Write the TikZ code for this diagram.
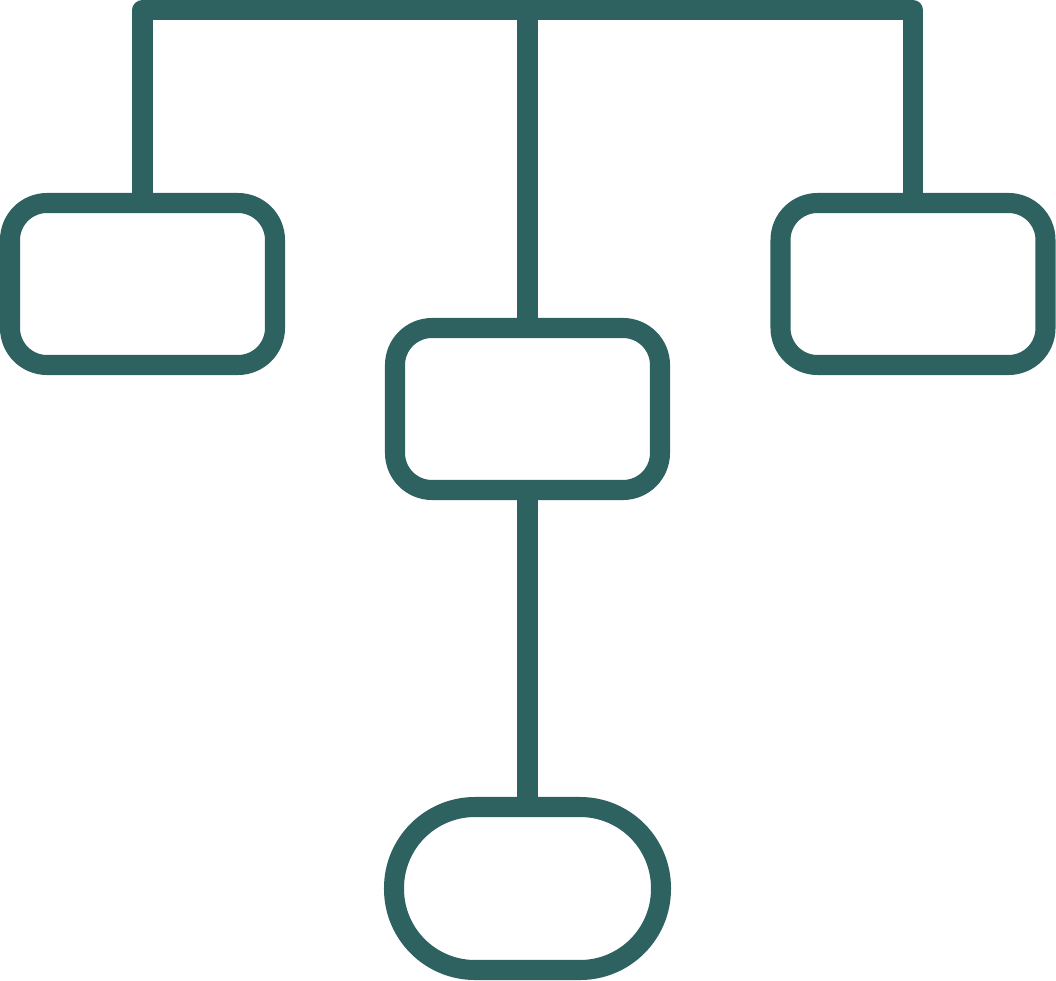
\documentclass[tikz,border=0pt]{standalone}
\usepackage{tikz}
\usetikzlibrary{calc}
\definecolor{myteal}{RGB}{45, 98, 97}
\tikzset{box/.style = {draw = myteal, line width = 5.7pt, rounded corners = 0.37cm,
  minimum width = 2.65cm, minimum height = 1.62cm, inner sep = 0pt}}
\tikzset{link/.style = {draw = myteal, line width = 5.7pt, line join = round}}

\begin{document}
\begin{tikzpicture}
\useasboundingbox (0,0) rectangle (10.56,9.8);
\node[box] (left) at (1.425, 6.96) {};
\node[box] (right) at (9.13, 6.96) {};
\node[box] (mid) at (5.275, 5.71) {};
\node[box, rounded corners = 0.81cm, minimum width = 2.67cm, minimum height = 1.63cm] (bottom) at (5.275, 0.915) {};
\coordinate (top) at (5.275, 9.7);
\draw[link] (left.north) |- (top) -| (right.north);
\draw[link] (top) -- (mid.north);
\draw[link] (mid.south) -- (bottom.north);
\end{tikzpicture}
\end{document}
